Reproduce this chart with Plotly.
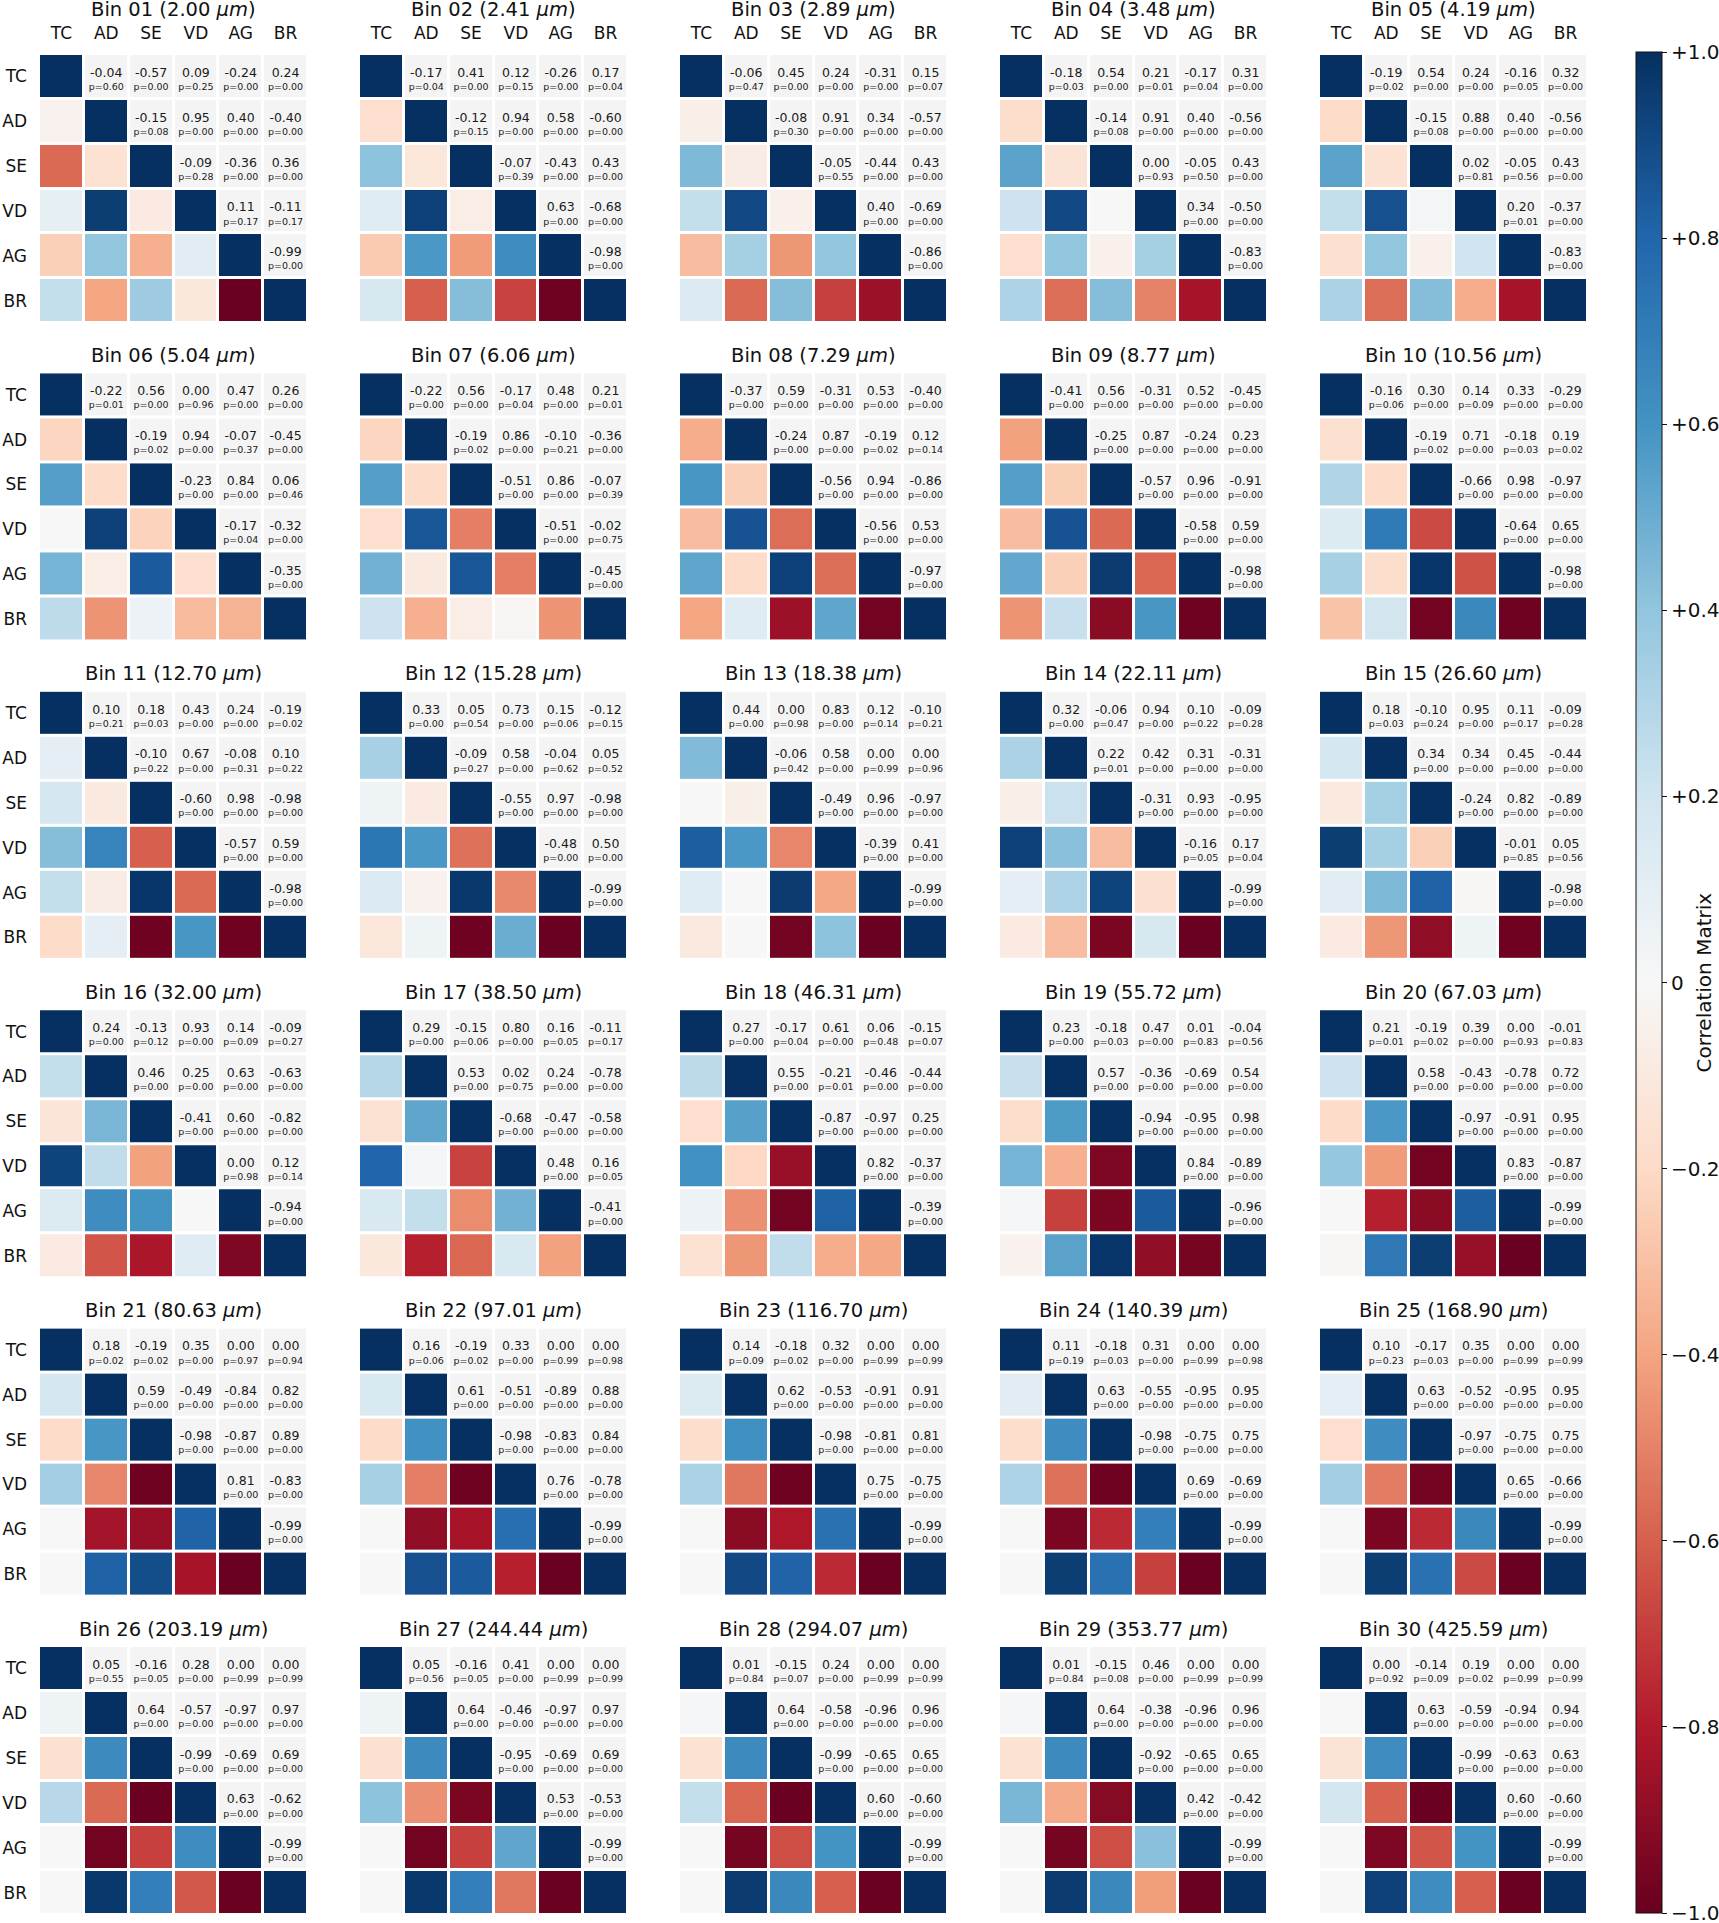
import plotly.graph_objects as go

W, H = 1719, 1923
FONT = "DejaVu Sans"

VARS = ["TC", "AD", "SE", "VD", "AG", "BR"]

BIN_SIZES = [2.00, 2.41, 2.89, 3.48, 4.19, 5.04, 6.06, 7.29, 8.77, 10.56,
             12.70, 15.28, 18.38, 22.11, 26.60, 32.00, 38.50, 46.31, 55.72, 67.03,
             80.63, 97.01, 116.70, 140.39, 168.90, 203.19, 244.44, 294.07, 353.77, 425.59]

# pair order: TC-AD TC-SE TC-VD TC-AG TC-BR AD-SE AD-VD AD-AG AD-BR SE-VD SE-AG SE-BR VD-AG VD-BR AG-BR
R_VALUES = [
    [-0.04, -0.57, 0.09, -0.24, 0.24, -0.15, 0.95, 0.40, -0.40, -0.09, -0.36, 0.36, 0.11, -0.11, -0.99],
    [-0.17, 0.41, 0.12, -0.26, 0.17, -0.12, 0.94, 0.58, -0.60, -0.07, -0.43, 0.43, 0.63, -0.68, -0.98],
    [-0.06, 0.45, 0.24, -0.31, 0.15, -0.08, 0.91, 0.34, -0.57, -0.05, -0.44, 0.43, 0.40, -0.69, -0.86],
    [-0.18, 0.54, 0.21, -0.17, 0.31, -0.14, 0.91, 0.40, -0.56, 0.00, -0.05, 0.43, 0.34, -0.50, -0.83],
    [-0.19, 0.54, 0.24, -0.16, 0.32, -0.15, 0.88, 0.40, -0.56, 0.02, -0.05, 0.43, 0.20, -0.37, -0.83],
    [-0.22, 0.56, 0.00, 0.47, 0.26, -0.19, 0.94, -0.07, -0.45, -0.23, 0.84, 0.06, -0.17, -0.32, -0.35],
    [-0.22, 0.56, -0.17, 0.48, 0.21, -0.19, 0.86, -0.10, -0.36, -0.51, 0.86, -0.07, -0.51, -0.02, -0.45],
    [-0.37, 0.59, -0.31, 0.53, -0.40, -0.24, 0.87, -0.19, 0.12, -0.56, 0.94, -0.86, -0.56, 0.53, -0.97],
    [-0.41, 0.56, -0.31, 0.52, -0.45, -0.25, 0.87, -0.24, 0.23, -0.57, 0.96, -0.91, -0.58, 0.59, -0.98],
    [-0.16, 0.30, 0.14, 0.33, -0.29, -0.19, 0.71, -0.18, 0.19, -0.66, 0.98, -0.97, -0.64, 0.65, -0.98],
    [0.10, 0.18, 0.43, 0.24, -0.19, -0.10, 0.67, -0.08, 0.10, -0.60, 0.98, -0.98, -0.57, 0.59, -0.98],
    [0.33, 0.05, 0.73, 0.15, -0.12, -0.09, 0.58, -0.04, 0.05, -0.55, 0.97, -0.98, -0.48, 0.50, -0.99],
    [0.44, 0.00, 0.83, 0.12, -0.10, -0.06, 0.58, 0.00, 0.00, -0.49, 0.96, -0.97, -0.39, 0.41, -0.99],
    [0.32, -0.06, 0.94, 0.10, -0.09, 0.22, 0.42, 0.31, -0.31, -0.31, 0.93, -0.95, -0.16, 0.17, -0.99],
    [0.18, -0.10, 0.95, 0.11, -0.09, 0.34, 0.34, 0.45, -0.44, -0.24, 0.82, -0.89, -0.01, 0.05, -0.98],
    [0.24, -0.13, 0.93, 0.14, -0.09, 0.46, 0.25, 0.63, -0.63, -0.41, 0.60, -0.82, 0.00, 0.12, -0.94],
    [0.29, -0.15, 0.80, 0.16, -0.11, 0.53, 0.02, 0.24, -0.78, -0.68, -0.47, -0.58, 0.48, 0.16, -0.41],
    [0.27, -0.17, 0.61, 0.06, -0.15, 0.55, -0.21, -0.46, -0.44, -0.87, -0.97, 0.25, 0.82, -0.37, -0.39],
    [0.23, -0.18, 0.47, 0.01, -0.04, 0.57, -0.36, -0.69, 0.54, -0.94, -0.95, 0.98, 0.84, -0.89, -0.96],
    [0.21, -0.19, 0.39, 0.00, -0.01, 0.58, -0.43, -0.78, 0.72, -0.97, -0.91, 0.95, 0.83, -0.87, -0.99],
    [0.18, -0.19, 0.35, 0.00, 0.00, 0.59, -0.49, -0.84, 0.82, -0.98, -0.87, 0.89, 0.81, -0.83, -0.99],
    [0.16, -0.19, 0.33, 0.00, 0.00, 0.61, -0.51, -0.89, 0.88, -0.98, -0.83, 0.84, 0.76, -0.78, -0.99],
    [0.14, -0.18, 0.32, 0.00, 0.00, 0.62, -0.53, -0.91, 0.91, -0.98, -0.81, 0.81, 0.75, -0.75, -0.99],
    [0.11, -0.18, 0.31, 0.00, 0.00, 0.63, -0.55, -0.95, 0.95, -0.98, -0.75, 0.75, 0.69, -0.69, -0.99],
    [0.10, -0.17, 0.35, 0.00, 0.00, 0.63, -0.52, -0.95, 0.95, -0.97, -0.75, 0.75, 0.65, -0.66, -0.99],
    [0.05, -0.16, 0.28, 0.00, 0.00, 0.64, -0.57, -0.97, 0.97, -0.99, -0.69, 0.69, 0.63, -0.62, -0.99],
    [0.05, -0.16, 0.41, 0.00, 0.00, 0.64, -0.46, -0.97, 0.97, -0.95, -0.69, 0.69, 0.53, -0.53, -0.99],
    [0.01, -0.15, 0.24, 0.00, 0.00, 0.64, -0.58, -0.96, 0.96, -0.99, -0.65, 0.65, 0.60, -0.60, -0.99],
    [0.01, -0.15, 0.46, 0.00, 0.00, 0.64, -0.38, -0.96, 0.96, -0.92, -0.65, 0.65, 0.42, -0.42, -0.99],
    [0.00, -0.14, 0.19, 0.00, 0.00, 0.63, -0.59, -0.94, 0.94, -0.99, -0.63, 0.63, 0.60, -0.60, -0.99],
]

Z5 = [0.0] * 10
P_VALUES = [
    [0.60, 0.00, 0.25, 0.00, 0.00, 0.08, 0.00, 0.00, 0.00, 0.28, 0.00, 0.00, 0.17, 0.17, 0.00],
    [0.04, 0.00, 0.15, 0.00, 0.04, 0.15, 0.00, 0.00, 0.00, 0.39, 0.00, 0.00, 0.00, 0.00, 0.00],
    [0.47, 0.00, 0.00, 0.00, 0.07, 0.30, 0.00, 0.00, 0.00, 0.55, 0.00, 0.00, 0.00, 0.00, 0.00],
    [0.03, 0.00, 0.01, 0.04, 0.00, 0.08, 0.00, 0.00, 0.00, 0.93, 0.50, 0.00, 0.00, 0.00, 0.00],
    [0.02, 0.00, 0.00, 0.05, 0.00, 0.08, 0.00, 0.00, 0.00, 0.81, 0.56, 0.00, 0.01, 0.00, 0.00],
    [0.01, 0.00, 0.96, 0.00, 0.00, 0.02, 0.00, 0.37, 0.00, 0.00, 0.00, 0.46, 0.04, 0.00, 0.00],
    [0.00, 0.00, 0.04, 0.00, 0.01, 0.02, 0.00, 0.21, 0.00, 0.00, 0.00, 0.39, 0.00, 0.75, 0.00],
    [0.00, 0.00, 0.00, 0.00, 0.00, 0.00, 0.00, 0.02, 0.14, 0.00, 0.00, 0.00, 0.00, 0.00, 0.00],
    [0.00, 0.00, 0.00, 0.00, 0.00, 0.00, 0.00, 0.00, 0.00, 0.00, 0.00, 0.00, 0.00, 0.00, 0.00],
    [0.06, 0.00, 0.09, 0.00, 0.00, 0.02, 0.00, 0.03, 0.02, 0.00, 0.00, 0.00, 0.00, 0.00, 0.00],
    [0.21, 0.03, 0.00, 0.00, 0.02, 0.22, 0.00, 0.31, 0.22, 0.00, 0.00, 0.00, 0.00, 0.00, 0.00],
    [0.00, 0.54, 0.00, 0.06, 0.15, 0.27, 0.00, 0.62, 0.52, 0.00, 0.00, 0.00, 0.00, 0.00, 0.00],
    [0.00, 0.98, 0.00, 0.14, 0.21, 0.42, 0.00, 0.99, 0.96, 0.00, 0.00, 0.00, 0.00, 0.00, 0.00],
    [0.00, 0.47, 0.00, 0.22, 0.28, 0.01, 0.00, 0.00, 0.00, 0.00, 0.00, 0.00, 0.05, 0.04, 0.00],
    [0.03, 0.24, 0.00, 0.17, 0.28, 0.00, 0.00, 0.00, 0.00, 0.00, 0.00, 0.00, 0.85, 0.56, 0.00],
    [0.00, 0.12, 0.00, 0.09, 0.27, 0.00, 0.00, 0.00, 0.00, 0.00, 0.00, 0.00, 0.98, 0.14, 0.00],
    [0.00, 0.06, 0.00, 0.05, 0.17, 0.00, 0.75, 0.00, 0.00, 0.00, 0.00, 0.00, 0.00, 0.05, 0.00],
    [0.00, 0.04, 0.00, 0.48, 0.07, 0.00, 0.01, 0.00, 0.00, 0.00, 0.00, 0.00, 0.00, 0.00, 0.00],
    [0.00, 0.03, 0.00, 0.83, 0.56] + Z5,
    [0.01, 0.02, 0.00, 0.93, 0.83] + Z5,
    [0.02, 0.02, 0.00, 0.97, 0.94] + Z5,
    [0.06, 0.02, 0.00, 0.99, 0.98] + Z5,
    [0.09, 0.02, 0.00, 0.99, 0.99] + Z5,
    [0.19, 0.03, 0.00, 0.99, 0.98] + Z5,
    [0.23, 0.03, 0.00, 0.99, 0.99] + Z5,
    [0.55, 0.05, 0.00, 0.99, 0.99] + Z5,
    [0.56, 0.05, 0.00, 0.99, 0.99] + Z5,
    [0.84, 0.07, 0.00, 0.99, 0.99] + Z5,
    [0.84, 0.08, 0.00, 0.99, 0.99] + Z5,
    [0.92, 0.09, 0.02, 0.99, 0.99] + Z5,
]

CB_TICKS = [1.0, 0.8, 0.6, 0.4, 0.2, 0.0, -0.2, -0.4, -0.6, -0.8, -1.0]
CB_LABELS = ["+1.0", "+0.8", "+0.6", "+0.4", "+0.2", "0",
             "\u22120.2", "\u22120.4", "\u22120.6", "\u22120.8", "\u22121.0"]

# matplotlib RdBu
RDBU = ["#67001f", "#b2182b", "#d6604d", "#f4a582", "#fddbc7", "#f7f7f7",
        "#d1e5f0", "#92c5de", "#4393c3", "#2166ac", "#053061"]
RDBU_SCALE = [[i / 10, c] for i, c in enumerate(RDBU)]
UPPER_BG = "#f4f4f4"

PAIRS = [(i, j) for i in range(6) for j in range(i + 1, 6)]

# geometry in pixels
X0, DX = 39, 320
Y0, DY = 54, 318.4
SIDE = 269

fig = go.Figure()
layout = {}
annotations = []

for k in range(30):
    row, col = divmod(k, 5)
    n = k + 1
    xs = "" if n == 1 else str(n)
    left = X0 + col * DX
    top = Y0 + row * DY

    m = [[1.0 if i == j else None for j in range(6)] for i in range(6)]
    for (i, j), r in zip(PAIRS, R_VALUES[k]):
        m[i][j] = r
        m[j][i] = r
    lower = [[m[i][j] if j <= i else None for j in range(6)] for i in range(6)]
    upper = [[0 if j > i else None for j in range(6)] for i in range(6)]

    fig.add_trace(go.Heatmap(
        z=lower, x=list(range(6)), y=list(range(6)), coloraxis="coloraxis",
        xgap=3, ygap=3, hoverinfo="skip", xaxis="x" + xs, yaxis="y" + xs,
    ))
    fig.add_trace(go.Heatmap(
        z=upper, x=list(range(6)), y=list(range(6)), zmin=0, zmax=1,
        colorscale=[[0, UPPER_BG], [1, UPPER_BG]], showscale=False,
        xgap=3, ygap=3, hoverinfo="skip", xaxis="x" + xs, yaxis="y" + xs,
    ))
    fig.add_trace(go.Scatter(
        x=[j for i, j in PAIRS], y=[i - 0.06 for i, j in PAIRS],
        text=[f"{r:.2f}" for r in R_VALUES[k]], mode="text",
        textfont=dict(family=FONT, size=12.5, color="#1a1a1a"),
        hoverinfo="skip", showlegend=False, cliponaxis=False,
        xaxis="x" + xs, yaxis="y" + xs,
    ))
    fig.add_trace(go.Scatter(
        x=[j for i, j in PAIRS], y=[i + 0.25 for i, j in PAIRS],
        text=[f"p={p:.2f}" for p in P_VALUES[k]], mode="text",
        textfont=dict(family=FONT, size=9.5, color="#1a1a1a"),
        hoverinfo="skip", showlegend=False, cliponaxis=False,
        xaxis="x" + xs, yaxis="y" + xs,
    ))

    layout["xaxis" + xs] = dict(
        domain=[left / W, (left + SIDE) / W], anchor="y" + xs,
        range=[-0.5, 5.5], showgrid=False, zeroline=False, showline=False,
        tickmode="array", tickvals=list(range(6)), ticktext=VARS,
        side="top", showticklabels=(row == 0), ticks="",
        ticklabelstandoff=11, tickfont=dict(family=FONT, size=17, color="#111"),
    )
    layout["yaxis" + xs] = dict(
        domain=[1 - (top + SIDE) / H, 1 - top / H], anchor="x" + xs,
        range=[5.5, -0.5], showgrid=False, zeroline=False, showline=False,
        tickmode="array", tickvals=list(range(6)), ticktext=VARS,
        showticklabels=(col == 0), ticks="",
        ticklabelstandoff=11, tickfont=dict(family=FONT, size=17, color="#111"),
    )

    title_y = top - (45 if row == 0 else 17)
    annotations.append(dict(
        text=f"Bin {n:02d} ({BIN_SIZES[k]:.2f} <i>\u03bcm</i>)",
        x=(left + SIDE / 2) / W, y=1 - title_y / H, xref="paper", yref="paper",
        xanchor="center", yanchor="middle", showarrow=False,
        font=dict(family=FONT, size=19.5, color="#111"),
    ))

# colorbar
CB_LEFT, CB_THICK = 1636, 26
CB_TOP, CB_BOT = 52, 1913
annotations.append(dict(
    text="Correlation Matrix", textangle=-90,
    x=1703 / W, y=1 - ((CB_TOP + CB_BOT) / 2) / H, xref="paper", yref="paper",
    xanchor="center", yanchor="middle", showarrow=False,
    font=dict(family=FONT, size=20, color="#111"),
))

# invisible helper axis carrying the colorbar minor ticks
fig.add_trace(go.Scatter(x=[None], y=[None], xaxis="x31", yaxis="y31",
                         showlegend=False, hoverinfo="skip"))
layout["xaxis31"] = dict(domain=[CB_LEFT / W, (CB_LEFT + CB_THICK) / W],
                         anchor="y31", visible=False, range=[0, 1])
layout["yaxis31"] = dict(
    domain=[1 - CB_BOT / H, 1 - CB_TOP / H], anchor="x31", side="right",
    range=[-1, 1], showgrid=False, zeroline=False, showline=False,
    showticklabels=False, ticks="", dtick=0.2,
    minor=dict(ticks="inside", ticklen=4, tickcolor="#222", dtick=0.02, showgrid=False),
)

fig.update_layout(
    **layout,
    annotations=annotations,
    coloraxis=dict(
        colorscale=RDBU_SCALE, cmin=-1, cmax=1,
        colorbar=dict(
            x=CB_LEFT / W, xanchor="left", xpad=0, ypad=0,
            y=1 - ((CB_TOP + CB_BOT) / 2) / H, yanchor="middle",
            len=(CB_BOT - CB_TOP) / H, lenmode="fraction",
            thickness=CB_THICK, outlinewidth=1, outlinecolor="#111",
            tickmode="array", tickvals=CB_TICKS, ticktext=CB_LABELS,
            ticks="outside", ticklen=5, tickwidth=1, tickcolor="#111",
            ticklabeloverflow="allow",
            tickfont=dict(family=FONT, size=20, color="#111"),
        ),
    ),
    width=W, height=H,
    margin=dict(l=0, r=0, t=0, b=0, autoexpand=False),
    paper_bgcolor="white", plot_bgcolor="white",
    showlegend=False,
    font=dict(family=FONT, color="#111"),
)

fig.write_html(
    "out.html",
    config={"displayModeBar": False},
    post_script="document.body.style.margin='0px';document.body.style.overflow='hidden';",
)
